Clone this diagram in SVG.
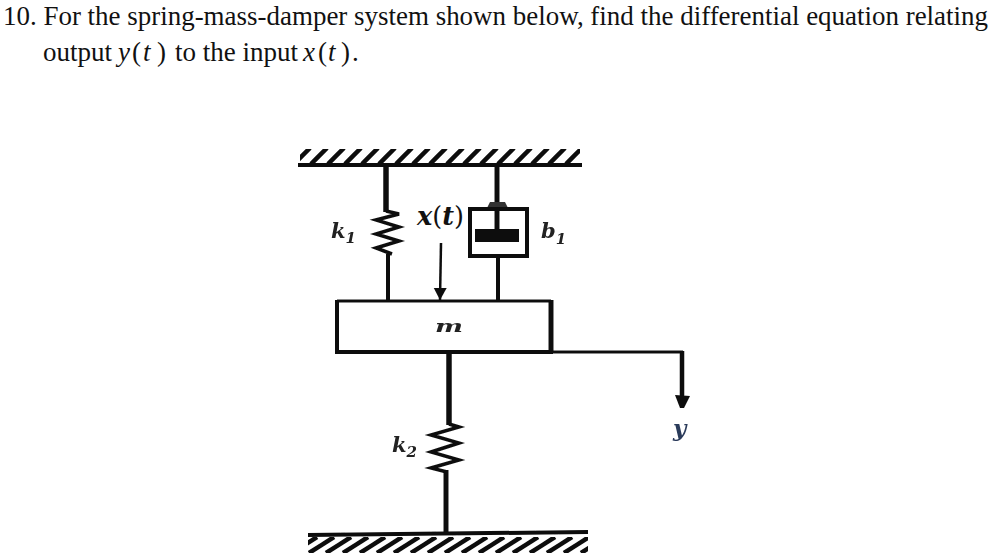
<svg xmlns="http://www.w3.org/2000/svg" width="992" height="560" viewBox="0 0 992 560">
<style>
.q{font-family:"Liberation Serif",serif;font-size:27px;fill:#111}
.mi{font-style:italic}
.w{fill:none;stroke:#111;stroke-linejoin:miter}
.l{font-family:"DejaVu Serif",serif;font-weight:bold;font-style:italic;fill:#222}
</style>
<defs>
<filter id="b" x="-5%" y="-5%" width="110%" height="110%"><feGaussianBlur stdDeviation="0.6"/></filter>
<pattern id="h" width="17" height="16" patternUnits="userSpaceOnUse" patternTransform="translate(298 148)">
<path d="M-4 16L12 0M13 16L29 0" stroke="#111" stroke-width="4.5"/>
</pattern>
<pattern id="g" width="17" height="16" patternUnits="userSpaceOnUse" patternTransform="translate(304 537)">
<path d="M-12 16L13 0M5 16L30 0" stroke="#111" stroke-width="4.5"/>
</pattern>
<marker id="a" markerWidth="14" markerHeight="14" refX="12" refY="6.5" markerUnits="userSpaceOnUse" orient="auto"><path d="M0 0L12 6.5L0 13Z" fill="#111"/></marker>
</defs>
<rect width="992" height="560" fill="#fff"/>
<g id="question">
<text class="q" x="3" y="25" textLength="985" lengthAdjust="spacingAndGlyphs">10. For the spring-mass-damper system shown below, find the differential equation relating</text>
<text class="q" x="43" y="61">output</text>
<text class="q mi" x="118" y="61">y</text>
<text class="q" x="132" y="61">(</text>
<text class="q mi" x="143" y="61">t</text>
<text class="q" x="157" y="61">)</text>
<text class="q" x="175" y="61">to the input</text>
<text class="q mi" x="303" y="61">x</text>
<text class="q" x="318" y="61">(</text>
<text class="q mi" x="328" y="61">t</text>
<text class="q" x="341" y="61">)</text>
<text class="q" x="352" y="61">.</text>
</g>
<g filter="url(#b)">
<g id="ceiling">
<rect x="300" y="149" width="280" height="15" fill="url(#h)"/>
<path class="w" stroke-width="4" d="M298 165H582"/>
</g>
<g id="ground">
<rect x="308" y="537" width="280" height="16" fill="url(#g)"/>
<path class="w" stroke-width="4" d="M308 535L588 532"/>
</g>
<g id="connectors">
<path class="w" stroke-width="5.5" d="M386 165V212"/>
<path class="w" stroke-width="4" d="M388 254V300"/>
<path class="w" stroke-width="5" d="M497 165V232"/>
<path class="w" stroke-width="4" d="M498 256V300"/>
<path class="w" stroke-width="2.5" d="M441 243L440 300" marker-end="url(#a)"/>
<path class="w" stroke-width="5.5" d="M449 352V425"/>
<path class="w" stroke-width="5" d="M446 470V534"/>
<path class="w" stroke-width="3" d="M552 352H683"/>
<path class="w" stroke-width="4.5" d="M682 351V404"/>
<path d="M675 395L690 396L684 408H680Z" fill="#111"/>
</g>
<g id="spring-k1">
<path class="w" stroke-width="3.5" d="M386 211L399 214L376 220L399 227L376 234L399 241L376 248L392 254"/>
<text class="l" x="331" y="238" font-size="21">k<tspan font-size="15" dy="5">1</tspan></text>
</g>
<g id="damper-b1">
<path d="M487 208L490 202H505L508 208Z" fill="#333"/>
<rect class="w" stroke-width="4" x="470" y="209" width="57" height="47"/>
<rect x="475" y="229" width="44" height="13" fill="#111"/>
<text class="l" x="541" y="238" font-size="21">b<tspan font-size="15" dy="6">1</tspan></text>
</g>
<g id="mass">
<path class="w" stroke-width="3" d="M337 301H551"/>
<path class="w" stroke-width="4" d="M337 300V352"/>
<path class="w" stroke-width="5" d="M551 300V352"/>
<path class="w" stroke-width="4" d="M335 352H553"/>
<text class="l" x="435" y="332" font-size="17" textLength="28" lengthAdjust="spacingAndGlyphs">m</text>
</g>
<g id="spring-k2">
<path class="w" stroke-width="3.5" d="M449 424L459 427L431 435L459 443L431 452L459 460L431 468L447 472"/>
<text class="l" x="392" y="452" font-size="21">k<tspan font-size="15" dy="5">2</tspan></text>
</g>
<g id="output-label">
<text x="673" y="436" font-family="'DejaVu Serif',serif" font-style="italic" font-weight="bold" font-size="23" fill="#2a3a5a">y</text>
</g>
</g>
<g id="input-label">
<text x="417" y="225" font-family="'DejaVu Serif',serif" font-style="italic" font-size="25.5" fill="#111" font-weight="bold">x<tspan font-weight="normal" font-style="normal">(</tspan>t<tspan font-weight="normal" font-style="normal">)</tspan></text>
</g>
</svg>
